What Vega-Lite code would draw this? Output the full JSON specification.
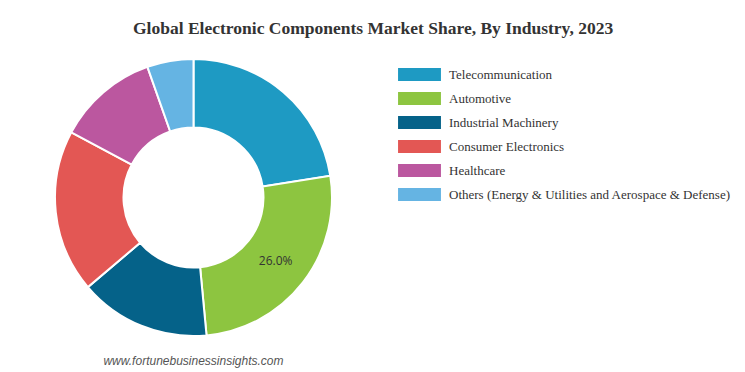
{
  "$schema": "https://vega.github.io/schema/vega-lite/v6.json",
  "padding": {"left": 51, "top": 19, "right": 5, "bottom": 5},
  "title": {
    "text": "Global Electronic Components Market Share, By Industry, 2023",
    "font": "Liberation Serif",
    "fontSize": 17.5,
    "fontWeight": "bold",
    "color": "#333333",
    "anchor": "start",
    "dx": 82,
    "offset": 18
  },
  "data": {
    "values": [
      {"industry": "Telecommunication", "share": 22.5, "o": 1, "label": ""},
      {"industry": "Automotive", "share": 26.0, "o": 2, "label": "26.0%"},
      {"industry": "Industrial Machinery", "share": 15.3, "o": 3, "label": ""},
      {"industry": "Consumer Electronics", "share": 19.0, "o": 4, "label": ""},
      {"industry": "Healthcare", "share": 11.8, "o": 5, "label": ""},
      {"industry": "Others (Energy & Utilities and Aerospace & Defense)", "share": 5.4, "o": 6, "label": ""}
    ]
  },
  "vconcat": [
    {
      "width": 277,
      "height": 277,
      "title": {
        "text": "www.fortunebusinessinsights.com",
        "orient": "bottom",
        "anchor": "middle",
        "font": "Liberation Sans",
        "fontSize": 12,
        "fontStyle": "italic",
        "fontWeight": "normal",
        "color": "#555555",
        "offset": 16
      },
      "encoding": {
        "theta": {"field": "share", "type": "quantitative", "stack": true},
        "order": {"field": "o", "type": "quantitative"}
      },
      "layer": [
        {
          "mark": {"type": "arc", "innerRadius": 70, "stroke": "#ffffff", "strokeWidth": 2},
          "encoding": {
            "color": {
              "field": "industry",
              "type": "nominal",
              "scale": {
                "domain": ["Telecommunication", "Automotive", "Industrial Machinery", "Consumer Electronics", "Healthcare", "Others (Energy & Utilities and Aerospace & Defense)"],
                "range": ["#1e9ac3", "#8dc540", "#056289", "#e35754", "#bb579f", "#65b4e3"]
              },
              "legend": {
                "title": null,
                "orient": "none",
                "legendX": 358,
                "legendY": 9,
                "padding": 0,
                "symbolType": "M-3.3,-1H3.3V1H-3.3Z",
                "symbolSize": 169,
                "symbolStrokeWidth": 0,
                "symbolOpacity": 1,
                "labelFont": "Liberation Serif",
                "labelFontSize": 13,
                "labelColor": "#333333",
                "labelOffset": 23,
                "labelLimit": 400,
                "rowPadding": 10
              }
            }
          }
        },
        {
          "mark": {"type": "text", "radius": 104, "font": "Open Sans", "fontSize": 12, "color": "#333333"},
          "encoding": {"text": {"field": "label", "type": "nominal"}}
        }
      ]
    }
  ],
  "config": {"view": {"stroke": null}}
}
